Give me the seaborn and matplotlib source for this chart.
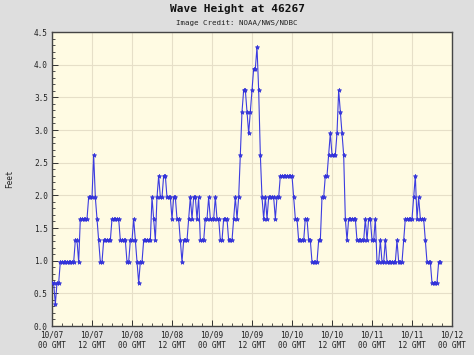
import numpy as np
import pandas as pd
import matplotlib
matplotlib.use("Agg")
import matplotlib.pyplot as plt
from matplotlib.ticker import MultipleLocator
import seaborn as sns

# Wave height (feet), one reading every 30 minutes starting 10/07 00 GMT
day1 = [0.66, 0.66, 0.33, 0.66, 0.66, 0.98, 0.98, 0.98, 0.98, 0.98, 0.98, 0.98,
        0.98, 0.98, 1.31, 1.31, 0.98, 1.64, 1.64, 1.64, 1.64, 1.64, 1.97, 1.97,
        1.97, 2.62, 1.97, 1.64, 1.31, 0.98, 0.98, 1.31, 1.31, 1.31, 1.31, 1.31,
        1.64, 1.64, 1.64, 1.64, 1.64, 1.31, 1.31, 1.31, 1.31, 0.98, 0.98, 1.31]
day2 = [1.31, 1.64, 1.31, 0.98, 0.66, 0.98, 0.98, 1.31, 1.31, 1.31, 1.31, 1.31,
        1.97, 1.64, 1.31, 1.97, 2.30, 1.97, 1.97, 2.30, 2.30, 1.97, 1.97, 1.97,
        1.64, 1.97, 1.97, 1.64, 1.64, 1.31, 0.98, 1.31, 1.31, 1.31, 1.64, 1.97,
        1.64, 1.97, 1.97, 1.64, 1.97, 1.31, 1.31, 1.31, 1.64, 1.64, 1.97, 1.64]
day3 = [1.64, 1.64, 1.97, 1.64, 1.64, 1.31, 1.31, 1.64, 1.64, 1.64, 1.31, 1.31,
        1.31, 1.64, 1.97, 1.64, 1.97, 2.62, 3.28, 3.61, 3.61, 3.28, 2.95, 3.28,
        3.61, 3.94, 3.94, 4.27, 3.61, 2.62, 1.97, 1.64, 1.97, 1.64, 1.97, 1.97,
        1.97, 1.97, 1.64, 1.97, 1.97, 2.30, 2.30, 2.30, 2.30, 2.30, 2.30, 2.30]
day4 = [2.30, 1.97, 1.64, 1.64, 1.31, 1.31, 1.31, 1.31, 1.64, 1.64, 1.31, 1.31,
        0.98, 0.98, 0.98, 0.98, 1.31, 1.31, 1.97, 1.97, 2.30, 2.30, 2.62, 2.95,
        2.62, 2.62, 2.62, 2.95, 3.61, 3.28, 2.95, 2.62, 1.64, 1.31, 1.64, 1.64,
        1.64, 1.64, 1.64, 1.31, 1.31, 1.31, 1.31, 1.31, 1.64, 1.31, 1.64, 1.64]
day5 = [1.31, 1.31, 1.64, 0.98, 0.98, 1.31, 0.98, 0.98, 1.31, 0.98, 0.98, 0.98,
        0.98, 0.98, 0.98, 1.31, 0.98, 0.98, 0.98, 1.31, 1.64, 1.64, 1.64, 1.64,
        1.64, 1.97, 2.30, 1.64, 1.97, 1.64, 1.64, 1.64, 1.31, 0.98, 0.98, 0.98,
        0.66, 0.66, 0.66, 0.66, 0.98, 0.98]

tick_labels = ["10/07\n00 GMT", "10/07\n12 GMT", "10/08\n00 GMT", "10/08\n12 GMT",
               "10/09\n00 GMT", "10/09\n12 GMT", "10/10\n00 GMT", "10/10\n12 GMT",
               "10/11\n00 GMT", "10/11\n12 GMT", "10/12\n00 GMT"]

heights = day1 + day2 + day3 + day4 + day5
hours = np.arange(len(heights)) * 0.5
df = pd.DataFrame({"hours": hours, "feet": heights})

sns.set_style("white")
mono = "DejaVu Sans Mono"

fig = plt.figure(figsize=(4.74, 3.55), dpi=100, facecolor="#DEDEDE")
ax = fig.add_axes([52/474, 1-326/355, 400/474, 294/355])
ax.set_facecolor("#FFFBE3")

sns.lineplot(data=df, x="hours", y="feet", ax=ax, color="#3C3CE0", lw=0.8,
             marker="*", markersize=3.2, markeredgewidth=0.5,
             markeredgecolor="#3030D8", zorder=3)

ax.set_xlim(0, 120)
ax.set_ylim(0, 4.5)
ax.set_xticks(np.arange(0, 121, 12))
ax.set_xticklabels(tick_labels, fontsize=5.6, family=mono, color="#222222")
ax.xaxis.set_minor_locator(MultipleLocator(3))
ax.set_yticks(np.arange(0, 4.51, 0.5))
ax.set_yticklabels([f"{v:.1f}" for v in np.arange(0, 4.51, 0.5)],
                   fontsize=5.6, family=mono, color="#222222")
ax.yaxis.set_minor_locator(MultipleLocator(0.1))
ax.tick_params(which="major", direction="in", length=4, width=0.7,
               color="#333333", pad=3)
ax.tick_params(which="minor", direction="in", length=2, width=0.6,
               color="#333333")
ax.tick_params(axis="y", which="both", left=True)
ax.tick_params(axis="x", which="both", bottom=True)

ax.grid(True, which="major", color="#E6DFC8", lw=0.8)
ax.set_axisbelow(True)
for s in ax.spines.values():
    s.set_color("#444444")
    s.set_linewidth(1.0)

ax.set_xlabel("")
ax.set_ylabel("Feet", fontsize=5.6, family=mono, color="#222222", labelpad=14)

fig.text(237/474, 1-9/355, "Wave Height at 46267", ha="center", va="center",
         fontsize=8, family=mono, fontweight="bold", color="#111111")
fig.text(237/474, 1-23/355, "Image Credit: NOAA/NWS/NDBC", ha="center",
         va="center", fontsize=5.4, family=mono, color="#222222")

fig.savefig("out.png", dpi=100, facecolor=fig.get_facecolor())
